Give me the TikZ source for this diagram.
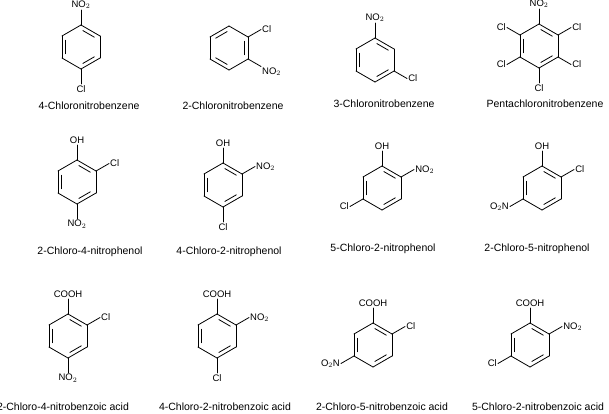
\documentclass[tikz,border=0pt]{standalone}
\usepackage{fontspec}
\setmainfont{Liberation Sans}
\usetikzlibrary{calc}
\tikzset{bond/.style={line width=0.8pt,line cap=round},
 lab/.style={font=\fontsize{9.5}{10}\selectfont,inner sep=0.8pt},
 title/.style={font=\fontsize{10.5}{11}\selectfont}}
\newcommand\ring[3]{%
 \foreach \k in {0,...,5}{%
  \pgfmathsetmacro\aa{90-60*\k}\pgfmathsetmacro\bb{30-60*\k}%
  \draw[bond] ({#1+22*cos(\aa)},{#2-22*sin(\aa)}) -- ({#1+22*cos(\bb)},{#2-22*sin(\bb)});
  \pgfmathtruncatemacro\m{mod(\k+#3,2)}%
  \ifnum\m=0
   \coordinate (Ai) at ({#1+17.5*cos(\aa)},{#2-17.5*sin(\aa)});
   \coordinate (Bi) at ({#1+17.5*cos(\bb)},{#2-17.5*sin(\bb)});
   \draw[bond] ($(Ai)!0.12!(Bi)$) -- ($(Bi)!0.12!(Ai)$);
  \fi}}
\newcommand\subst[5]{%
 \draw[bond] ({#1+22*cos(#3)},{#2-22*sin(#3)}) -- ({#1+37*cos(#3)},{#2-37*sin(#3)}) node[lab,anchor=#5]{#4};}
\def\NO{NO$_2$}
\def\ON{O$_2$N}
\begin{document}
\begin{tikzpicture}[x=1pt,y=-1pt]
\useasboundingbox (0,0) rectangle (609,413);
% row 1
\ring{81}{47}{0}\subst{81}{47}{90}{\NO}{south}\subst{81}{47}{-90}{Cl}{north}
\node[title] (t1) at (89,106) {4-Chloronitrobenzene};
\ring{229}{48}{1}\subst{229}{48}{30}{Cl}{west}\subst{229}{48}{-30}{\NO}{north west}
\node[title] (t2) at (233,106) {2-Chloronitrobenzene};
\ring{375}{60}{0}\subst{375}{60}{90}{\NO}{south}\subst{375}{60}{-30}{Cl}{west}
\node[title] (t3) at (384,104) {3-Chloronitrobenzene};
\ring{539}{46}{0}\subst{539}{46}{90}{\NO}{south}\subst{539}{46}{30}{Cl}{west}
\subst{539}{46}{-30}{Cl}{west}\subst{539}{46}{-90}{Cl}{north}
\subst{539}{46}{-150}{Cl}{east}\subst{539}{46}{150}{Cl}{east}
\node[title] (t4) at (545,104) {Pentachloronitrobenzene};
% row 2
\ring{77}{182}{0}\subst{77}{182}{90}{OH}{south}\subst{77}{182}{30}{Cl}{west}\subst{77}{182}{-90}{\NO}{north}
\node[title] (t5) at (90,252) {2-Chloro-4-nitrophenol};
\ring{223}{185}{0}\subst{223}{185}{90}{OH}{south}\subst{223}{185}{30}{\NO}{west}\subst{223}{185}{-90}{Cl}{north}
\node[title] (t6) at (229,252) {4-Chloro-2-nitrophenol};
\ring{382}{188}{0}\subst{382}{188}{90}{OH}{south}\subst{382}{188}{30}{\NO}{west}\subst{382}{188}{-150}{Cl}{east}
\node[title] (t7) at (383,249) {5-Chloro-2-nitrophenol};
\ring{542}{188}{0}\subst{542}{188}{90}{OH}{south}\subst{542}{188}{30}{Cl}{west}\subst{542}{188}{-150}{\ON}{east}
\node[title] (t8) at (537,249) {2-Chloro-5-nitrophenol};
% row 3
\ring{68}{336}{0}\subst{68}{336}{90}{COOH}{south}\subst{68}{336}{30}{Cl}{west}\subst{68}{336}{-90}{\NO}{north}
\node[title] (t9) at (63,407) {2-Chloro-4-nitrobenzoic acid};
\ring{217}{336}{0}\subst{217}{336}{90}{COOH}{south}\subst{217}{336}{30}{\NO}{west}\subst{217}{336}{-90}{Cl}{north}
\node[title] (t10) at (225,407) {4-Chloro-2-nitrobenzoic acid};
\ring{373}{345}{0}\subst{373}{345}{90}{COOH}{south}\subst{373}{345}{30}{Cl}{west}\subst{373}{345}{-150}{\ON}{east}
\node[title] (t11) at (382,407) {2-Chloro-5-nitrobenzoic acid};
\ring{530}{345}{0}\subst{530}{345}{90}{COOH}{south}\subst{530}{345}{30}{\NO}{west}\subst{530}{345}{-150}{Cl}{east}
\node[title] (t12) at (538,407) {5-Chloro-2-nitrobenzoic acid};
\end{tikzpicture}
\end{document}
